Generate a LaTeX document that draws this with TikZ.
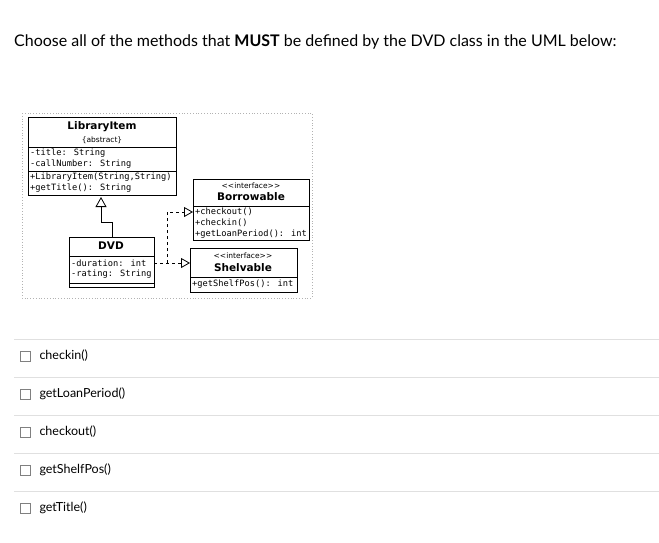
\documentclass[tikz,border=0pt]{standalone}
\usepackage{fontspec}
\setmainfont{Lato}
\newfontfamily\umlmono{DejaVu Sans Mono}
\newfontfamily\umlsans{DejaVu Sans}
\usetikzlibrary{positioning,arrows.meta}
\tikzset{
	box/.style={draw, line width=0.9pt, inner sep=0pt},
	code/.style={anchor=west, inner sep=1pt, font=\umlmono\fontsize{8.7}{9}\selectfont},
	head/.style={inner sep=0pt, font=\umlsans\bfseries\fontsize{10.5}{11}\selectfont},
	stereo/.style={inner sep=0pt, font=\umlsans\fontsize{7.5}{8}\selectfont},
	realize/.style={dashed, line width=0.8pt, -{Triangle[open,length=9pt,width=10pt]}},
	answer/.style={anchor=west, inner sep=0pt, font=\fontsize{12.5}{14}\selectfont},
	tick/.style={draw, gray, line width=0.6pt, minimum size=10pt, inner sep=0pt},
	rule/.style={draw=black!12, line width=0.8pt}
}
\begin{document}
\begin{tikzpicture}[x=1pt,y=-1pt]
	\useasboundingbox (0,0) rectangle (659,543);
	\node[anchor=west, inner sep=0pt, font=\fontsize{16}{18}\selectfont] (question) at (14,42)
		{Choose all of the methods that \textbf{MUST} be defined by the DVD class in the UML below:};
	\draw[black!30, dotted, line width=0.8pt] (22,113) rectangle (312,298);

	% LibraryItem
	\draw[box] (28,117) rectangle (176,195);
	\draw[line width=0.9pt] (28,147) -- (176,147) (28,171) -- (176,171);
	\node[head] (item) at (102,127) {LibraryItem};
	\node[stereo] (abstract) at (102,140) {\{abstract\}};
	\node[code] (title) at (29,153) {-title: String};
	\node[code] (callno) at (29,164) {-callNumber: String};
	\node[code] (ctor) at (29,177) {+LibraryItem(String,String)};
	\node[code] (gettitle) at (29,188) {+getTitle(): String};
	\coordinate (itemb) at (101,197);

	% Borrowable
	\draw[box] (193,179) rectangle (309,240);
	\draw[line width=0.9pt] (193,206) -- (309,206);
	\node[stereo] (binter) at (251,186) {<<interface>>};
	\node[head] (borrow) at (251,197) {Borrowable};
	\node[code] (bco) at (194,212) {+checkout()};
	\node[code] (bci) at (194,223) {+checkin()};
	\node[code] (bglp) at (194,234) {+getLoanPeriod(): int};
	\coordinate (borrowl) at (193,212);

	% DVD
	\draw[box] (69,237) rectangle (154,287);
	\draw[line width=0.9pt] (69,256) -- (154,256) (69,283) -- (154,283);
	\node[head] (dvd) at (111,246) {DVD};
	\node[code] (dur) at (70,263) {-duration: int};
	\node[code] (rat) at (70,274) {-rating: String};
	\coordinate (dvdt) at (112,237);
	\coordinate (dvdr) at (154,263);

	% Shelvable
	\draw[box] (190,248) rectangle (297,292);
	\draw[line width=0.9pt] (190,277) -- (297,277);
	\node[stereo] (sinter) at (243,256) {<<interface>>};
	\node[head] (shelf) at (243,268) {Shelvable};
	\node[code] (gsp) at (191,284) {+getShelfPos(): int};
	\coordinate (shelfl) at (190,263);

	% connectors
	\draw[line width=0.8pt, -{Triangle[open,length=10pt,width=11pt]}] (dvdt) |- (101,222) -- (itemb);
	\draw[realize] (dvdr) -- (shelfl);
	\draw[realize] (167,263) |- (borrowl);

	% answers
	\foreach \y/\txt [count=\i] in {356/checkin(), 394/getLoanPeriod(), 432/checkout(), 470/getShelfPos(), 508/getTitle()} {
		\draw[rule] (14,\y-17) -- (659,\y-17);
		\node[tick] (box\i) at (25,\y) {};
		\node[answer, right=9pt of box\i] (ans\i) {\txt};
	}
\end{tikzpicture}
\end{document}
